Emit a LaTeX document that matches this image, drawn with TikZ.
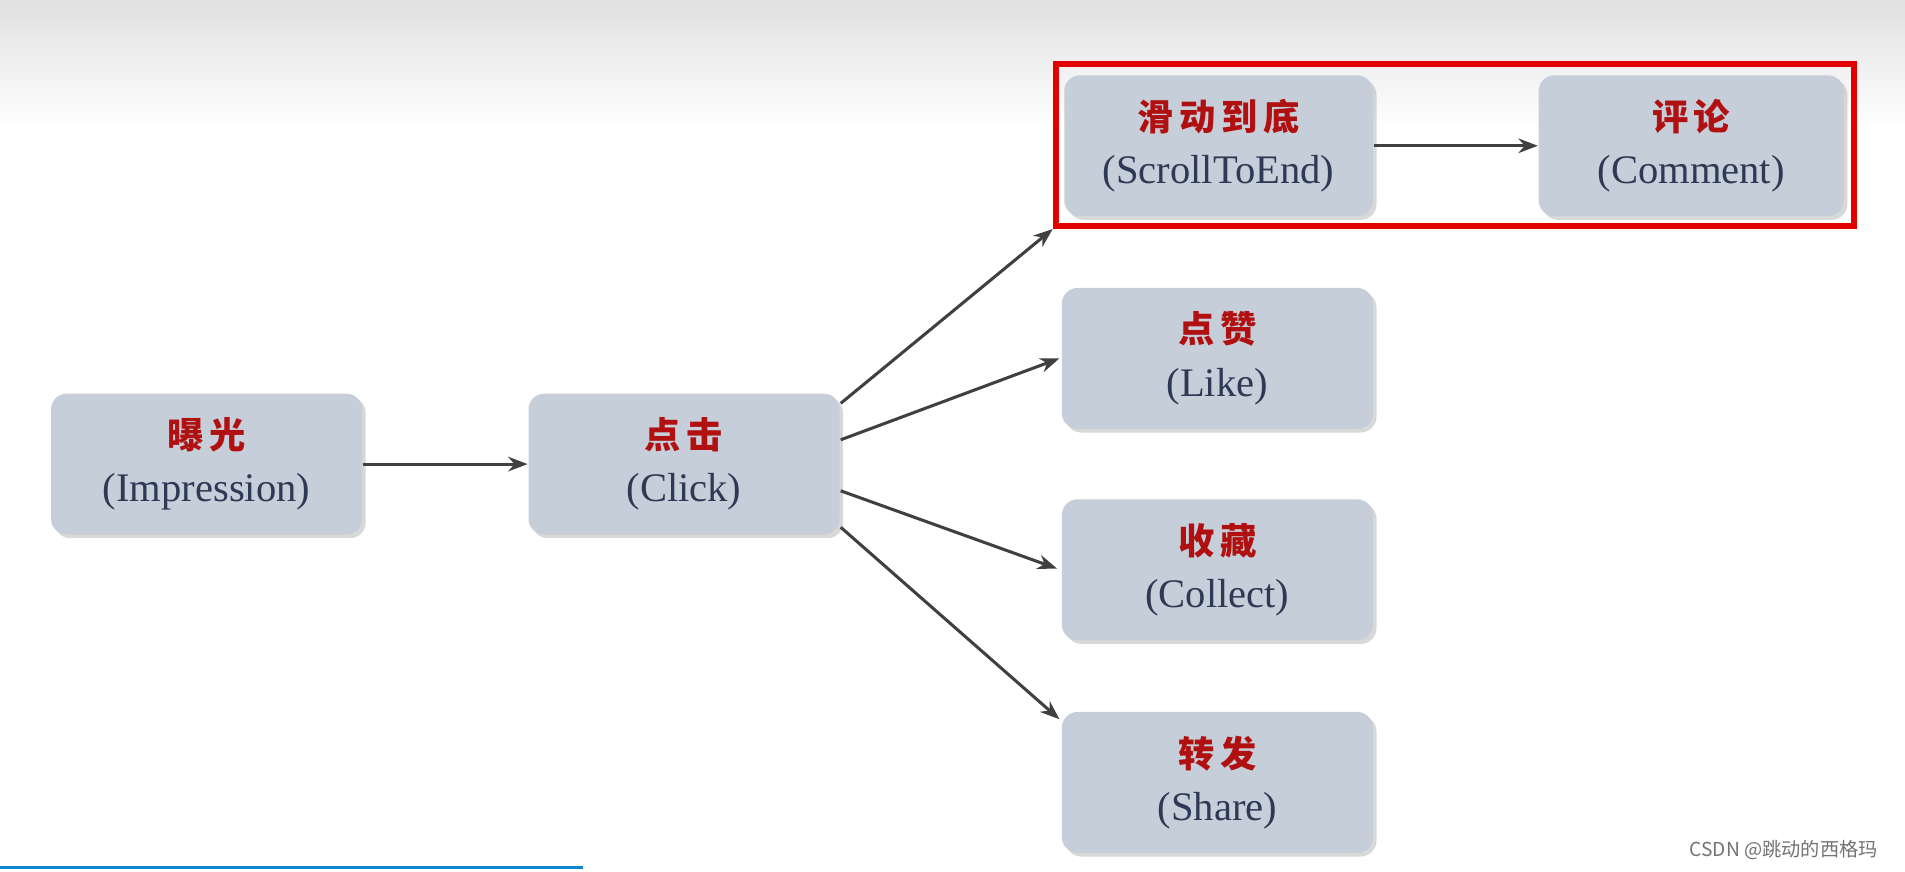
\documentclass[tikz,border=0pt]{standalone}
\usepackage{fontspec}
\setmainfont{Liberation Serif}
\newfontfamily\cjk{Noto Sans CJK SC}
\newfontfamily\cjksp[LetterSpace=15]{Noto Sans CJK SC}
\usetikzlibrary{shadows,arrows.meta}
\definecolor{boxfill}{HTML}{C6CED9}
\definecolor{txtblue}{HTML}{2E3A55}
\definecolor{cjkred}{HTML}{B01010}
\tikzset{
  box/.style={rounded corners=0.13cm, fill=boxfill, minimum width=2.56cm, minimum height=1.16cm,
    drop shadow={shadow xshift=0.03cm, shadow yshift=-0.03cm, fill=gray!60, opacity=0.5},
    align=center, inner sep=0pt, font=\fontsize{9.5}{12.5}\selectfont\color{txtblue}},
  conn/.style={draw=black!75, line width=0.025cm, -{Stealth[length=0.16cm,width=0.12cm]}}
}
\newcommand{\cn}[1]{{\cjksp\bfseries\color{cjkred}\fontsize{8.5}{11}\selectfont #1}}
\begin{document}
\begin{tikzpicture}[y=-1cm]
\useasboundingbox (0,0) rectangle (15.68,7.17);
\shade[top color=black!12, bottom color=white] (0,0) rectangle (15.68,1.05);
\fill[white] (0,1.05) rectangle (15.68,7.17);
\fill[cyan!70!blue] (0,7.125) rectangle (4.8,7.155);
\node (imp) [box] at (1.70,3.82) {\cn{曝光}\\(Impression)};
\node (clk) [box] at (5.63,3.82) {\cn{点击}\\(Click)};
\node (scr) [box, minimum width=2.54cm] at (10.03,1.20) {\cn{滑动到底}\\(ScrollToEnd)};
\node (com) [box, minimum width=2.51cm] at (13.92,1.20) {\cn{评论}\\(Comment)};
\node (lik) [box] at (10.02,2.95) {\cn{点赞}\\(Like)};
\node (col) [box] at (10.02,4.69) {\cn{收藏}\\(Collect)};
\node (sha) [box] at (10.02,6.44) {\cn{转发}\\(Share)};
\node (hl) [draw=red!90!black, line width=0.05cm, minimum width=6.57cm, minimum height=1.33cm, inner sep=0pt] at (11.975,1.195) {};
\draw[conn] (imp.east) -- (clk.west);
\draw[conn] (scr.east) -- (com.west);
\coordinate (c1) at (6.92,3.32);
\coordinate (c2) at (6.92,3.62);
\coordinate (c3) at (6.92,4.04);
\coordinate (c4) at (6.92,4.34);
\draw[conn] (c1) -- (hl.south west);
\draw[conn] (c2) -- (8.72,2.95);
\draw[conn] (c3) -- (8.70,4.68);
\draw[conn] (c4) -- (8.72,5.92);
\node (wm) [anchor=east, font=\cjk\fontsize{4.5}{5}\selectfont\color{black!55}] at (15.58,7.0) {CSDN @跳动的西格玛};
\end{tikzpicture}
\end{document}
